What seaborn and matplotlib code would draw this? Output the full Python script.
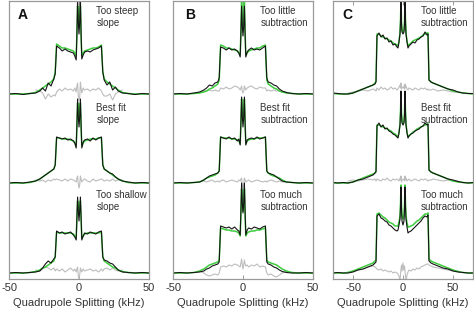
import numpy as np
import matplotlib
matplotlib.use("Agg")
import matplotlib.pyplot as plt
import seaborn as sns

nan = np.nan

# %%
# frequency axes (kHz)
x_ab = [-50, -45, -40, -35, -31, -28, -26, -24, -22, -20, -18, -17, -16, -14, -12, -10, -8, -6, -4, -3,
        -2, -1.5, -1, -0.5, 0, 0.5, 1, 1.5, 2, 3, 4, 6, 8, 10, 12, 14, 16, 17, 18, 20,
        22, 24, 26, 28, 31, 35, 40, 45, 50]
x_c = [-70, -65, -60, -55, -50, -45, -40, -35, -30, -28, -27, -26, -24, -22, -20, -18, -16, -14, -12, -10,
       -8, -6, -5, -4, -3, -2.5, -2, -1.5, -1, 0, 1, 1.5, 2, 2.5, 3, 4, 5, 6, 8, 10,
       12, 14, 16, 18, 20, 22, 24, 25, 26, 28, 30, 35, 40, 45, 50, 55, 60, 65, 70]

# panel A: slope of the background
a1_data = [0, 0.5, -0.5, 0.5, 1, 3, 6, 3, 11, 8, 15, 20, 48, 46, 43, 45, 43, 42, 41, 38,
           34, 60, 95, 72, 60, 72, 95, 60, 35, 39, 42, 43, 42, 44, 45, 46, 48, 22, 14, 9,
           12, 4, 7, 3, 1, 0.5, -0.5, 0.5, 0]
a1_fit = [0, 0, 0, 0.5, 1.5, 4, 6, 8, 10, 12, 15, 22, 50, 48, 46, 46, 45, 44, 43, 41,
          38, 58, 88, 74, 66, 74, 88, 58, 38, 41, 43, 44, 45, 46, 46, 47, 49, 22, 15, 12,
          10, 8, 6, 4, 1.5, 0.5, 0, 0, 0]
a1_res = [nan, nan, nan, nan, 4, 3, 1, -5, 0, -3, -1, -2, 2, 5, 3, 6, 4, 5, 3, 6,
          2, 8, 11, -2, -6, -3, 12, 6, 1, 6, 4, 5, 3, 5, 4, 6, 3, 0, -2, -2,
          0, -6, 0, 2, 4, nan, nan, nan, nan]
a2_data = [0, 0.5, 0, 1, 2, 4, 6, 8, 10, 12, 14, 18, 46, 45, 44, 45, 43, 44, 42, 40,
           35, 58, 84, 66, 56, 66, 84, 58, 35, 41, 43, 44, 42, 45, 43, 45, 46, 18, 14, 12,
           10, 9, 6, 4, 2, 1, 0, 0.5, 0]
a2_fit = [0, 0, 0, 0.5, 2, 4, 6, 8, 10, 12, 14, 18, 45, 45, 44, 44, 44, 43, 42, 40,
          37, 56, 80, 70, 64, 70, 80, 56, 37, 40, 42, 43, 44, 44, 44, 45, 45, 18, 14, 12,
          10, 8, 6, 4, 2, 0.5, 0, 0, 0]
a2_res = [nan, nan, nan, nan, 3, 2, 3, 1, 3, 2, 4, 3, 4, 3, 2, 4, 2, 4, 3, 2,
          1, 5, 7, -1, -5, -2, 7, 4, 1, 3, 4, 2, 1, 4, 2, 3, 4, 3, 2, 3,
          2, 4, 2, 3, 3, nan, nan, nan, nan]
a3_data = [0, 0.5, 0, 0.5, 1, 2, 5, 9, 12, 10, 14, 16, 42, 40, 41, 39, 40, 41, 38, 36,
           33, 56, 76, 62, 52, 62, 76, 56, 33, 37, 40, 39, 41, 40, 39, 41, 42, 16, 13, 12,
           10, 9, 6, 3, 1, 0.5, 0, 0.5, 0]
a3_fit = [0, 0, 0, 0.5, 1.5, 3, 5, 6, 8, 10, 12, 16, 41, 40, 40, 40, 40, 40, 39, 37,
          35, 54, 72, 64, 58, 64, 72, 54, 35, 37, 39, 40, 40, 40, 40, 40, 41, 16, 12, 10,
          8, 6, 5, 3, 1.5, 0.5, 0, 0, 0]
a3_res = [nan, nan, nan, nan, 3, 2, 4, 6, 5, 3, 5, 2, 4, 2, 4, 1, 3, 5, 2, 4,
          1, 4, 6, -3, -6, -2, 5, 3, 1, 4, 2, 3, 4, 2, 3, 1, 4, 2, 4, 5,
          3, 5, 3, 2, 3, nan, nan, nan, nan]

# panel B: amount of subtraction
b1_data = [0, 0.5, 0, 1, 2, 4, 6, 9, 8, 11, 12, 16, 47, 46, 44, 46, 44, 45, 43, 41,
           37, 60, 88, 68, 58, 68, 88, 60, 37, 42, 44, 46, 44, 45, 44, 46, 48, 16, 12, 11,
           9, 8, 5, 3, 1.5, 0.5, 0, 0.5, 0]
b1_fit = [0, 0, 0, 0.5, 1, 2, 3, 5, 6, 8, 10, 14, 49, 48, 46, 46, 45, 44, 43, 41,
          39, 62, 92, 74, 66, 74, 92, 62, 39, 41, 43, 44, 45, 46, 46, 48, 49, 14, 10, 8,
          6, 5, 3, 2, 1, 0.5, 0, 0, 0]
b1_res = [nan, nan, nan, nan, 2, 3, 3, 4, 3, 4, 3, 3, 6, 5, 7, 5, 6, 8, 7, 6,
          4, 6, 8, 3, 1, 3, 8, 6, 4, 6, 7, 8, 6, 5, 7, 6, 6, 3, 4, 3,
          4, 3, 3, 2, 2, nan, nan, nan, nan]
b2_data = [0, 0.5, 0, 0.5, 1, 3, 5, 7, 8, 9, 10, 12, 46, 45, 44, 46, 44, 45, 42, 44,
           38, 60, 86, 66, 56, 66, 86, 60, 38, 43, 44, 45, 44, 46, 44, 45, 46, 12, 10, 9,
           8, 6, 4, 2, 1, 0.5, 0, 0.5, 0]
b2_fit = [0, 0, 0, 0.5, 1, 3, 5, 6, 7, 8, 10, 12, 46, 45, 45, 45, 44, 44, 43, 42,
          39, 60, 84, 70, 64, 70, 84, 60, 39, 42, 43, 44, 44, 45, 45, 45, 46, 12, 10, 8,
          7, 6, 5, 3, 1, 0.5, 0, 0, 0]
b2_res = [nan, nan, nan, nan, 1, 2, 1, 2, 3, 1, 2, 1, 2, 3, 1, 2, 3, 2, 1, 3,
          2, 4, 5, -2, -6, -1, 5, 3, 1, 2, 3, 1, 2, 3, 2, 1, 2, 1, 2, 3,
          2, 1, 2, 1, 1, nan, nan, nan, nan]
b3_data = [0, 0.5, 0, 0.5, 1, 2, 4, 5, 7, 8, 9, 11, 47, 46, 45, 46, 44, 46, 43, 42,
           38, 62, 90, 70, 60, 70, 90, 62, 38, 43, 45, 44, 46, 45, 44, 46, 47, 11, 9, 8,
           6, 5, 3, 1.5, 0.5, 0, 0, 0.5, 0]
b3_fit = [0, 0, 0, 0.5, 2, 4, 6, 8, 9, 10, 11, 13, 45, 44, 43, 43, 42, 42, 41, 40,
          37, 58, 84, 68, 62, 68, 84, 58, 37, 40, 41, 42, 42, 43, 43, 44, 45, 13, 11, 10,
          9, 8, 6, 4, 2, 0.5, 0, 0, 0]
b3_res = [nan, nan, nan, nan, 2, 0, -2, -3, -2, -1, -2, 0, 6, 7, 6, 8, 7, 9, 8, 7,
          6, 10, 14, 8, 4, 8, 13, 9, 7, 8, 6, 8, 7, 9, 6, 7, 6, 0, -2, -1,
          -3, -4, -2, 0, 2, nan, nan, nan, nan]

# panel C: amount of subtraction, wider spectrum
c1_data = [1, 0.5, 0, 0, 1, 3, 5, 7, 9, 10, 12, 58, 61, 57, 59, 55, 56, 52, 53, 49,
           50, 47, 46, 52, 60, 72, 98, 70, 62, 60, 62, 70, 98, 72, 60, 52, 46, 48, 50, 52,
           51, 54, 55, 57, 58, 62, 59, 60, 14, 12, 11, 9, 7, 5, 4, 2, 1, 0.5, 0.5]
c1_fit = [0.5, 0, 0, 0, 1, 3, 5, 7, 9, 11, 13, 60, 60, 58, 57, 56, 55, 54, 53, 51,
          50, 49, 48, 53, 61, 74, 94, 72, 64, 62, 64, 72, 94, 74, 61, 53, 48, 49, 51, 53,
          54, 55, 56, 57, 59, 60, 61, 61, 14, 12, 11, 9, 7, 5, 3, 2, 1, 0.5, 0]
c1_res = [nan, nan, nan, 1, 2, 3, 4, 3, 5, 4, 3, 6, 4, 7, 5, 6, 4, 5, 7, 5,
          6, 4, 5, 7, 9, 6, 11, 5, 7, 6, 8, 5, 10, 6, 8, 5, 4, 6, 5, 4,
          6, 5, 4, 6, 5, 6, 4, 5, 4, 4, 5, 3, 4, 3, 2, 2, nan, nan, nan]
c2_data = [0.5, 0, 0.5, 0, 1, 3, 4, 6, 8, 10, 11, 57, 60, 56, 58, 54, 55, 52, 51, 49,
           48, 46, 45, 50, 58, 70, 92, 68, 60, 58, 60, 68, 92, 70, 58, 50, 45, 47, 49, 50,
           52, 53, 54, 56, 57, 60, 58, 59, 13, 11, 10, 8, 6, 4, 3, 1.5, 0.5, 0, 0.5]
c2_fit = [0, 0, 0, 0, 1, 3, 5, 7, 9, 10, 12, 58, 58, 57, 56, 55, 54, 53, 52, 50,
          49, 47, 46, 51, 59, 72, 90, 70, 62, 60, 62, 70, 90, 72, 59, 51, 46, 47, 49, 51,
          52, 54, 55, 56, 57, 58, 59, 59, 13, 11, 10, 8, 6, 4, 2, 1, 0.5, 0, 0]
c2_res = [nan, nan, nan, 2, 3, 2, 3, 4, 3, 4, 2, 4, 3, 2, 4, 3, 5, 3, 2, 4,
          3, 4, 3, 2, 5, 3, 7, 1, 3, 4, 3, 2, 7, 3, 5, 2, 3, 4, 2, 3,
          4, 3, 2, 4, 3, 4, 3, 2, 3, 3, 4, 3, 2, 3, 2, 2, nan, nan, nan]
c3_data = [0, 0.5, 0, 0, 1, 3, 4, 6, 8, 10, 11, 57, 59, 55, 54, 52, 51, 48, 47, 45,
           43, 42, 43, 48, 54, 66, 86, 64, 52, 48, 52, 64, 86, 66, 54, 46, 40, 41, 42, 44,
           46, 48, 50, 52, 55, 57, 56, 58, 12, 10, 9, 7, 5, 4, 2, 1, 0.5, 0, 0]
c3_fit = [0, 0, 0, 0.5, 2, 4, 6, 8, 10, 12, 13, 59, 60, 58, 56, 55, 53, 51, 50, 49,
          47, 47, 47, 51, 57, 70, 88, 68, 58, 54, 58, 68, 88, 70, 57, 50, 46, 46, 47, 48,
          50, 52, 53, 55, 57, 59, 59, 60, 14, 12, 11, 9, 7, 5, 3, 1.5, 0.5, 0, 0]
c3_res = [nan, nan, nan, 1, 2, 3, 4, 6, 7, 6, 5, 4, 3, 4, 2, 3, 2, 1, 2, 0,
          1, 0, -1, -3, -8, -2, 4, 8, 2, 10, 3, 7, 2, -3, -8, -2, 1, 3, 2, 4,
          3, 5, 4, 6, 7, 8, 9, 9, 8, 7, 6, 5, 4, 3, 2, 2, nan, nan, nan]

panel_letters = ["A", "B", "C"]
row_labels = [
    ["Too steep\nslope", "Best fit\nslope", "Too shallow\nslope"],
    ["Too little\nsubtraction", "Best fit\nsubtraction", "Too much\nsubtraction"],
    ["Too little\nsubtraction", "Best fit\nsubtraction", "Too much\nsubtraction"],
]
xlabel = "Quadrupole Splitting (kHz)"

panels = [
    (x_ab, [(a1_data, a1_fit, a1_res), (a2_data, a2_fit, a2_res), (a3_data, a3_fit, a3_res)]),
    (x_ab, [(b1_data, b1_fit, b1_res), (b2_data, b2_fit, b2_res), (b3_data, b3_fit, b3_res)]),
    (x_c, [(c1_data, c1_fit, c1_res), (c2_data, c2_fit, c2_res), (c3_data, c3_fit, c3_res)]),
]

# %%
sns.set_style("ticks")
plt.rcParams["font.family"] = ["Liberation Sans", "DejaVu Sans"]

W, H = 474, 312
fig = plt.figure(figsize=(W / 100, H / 100), dpi=100)

# axes boxes in pixels: left, right; shared top/bottom
boxes = [(9, 149), (173, 313), (333, 473)]
top_px, bot_px = 1, 279
xlims = [(-50, 50), (-50, 50), (-70, 70)]
offsets = [185, 96, 6]
# label positions (kHz, pixel height from axes bottom)
letter_x = [-43.5, -41.5, -61]
label_x = [12.5, 12.5, 18]
label_y = [273, 176, 89]

grey_txt = "#333333"
spine_col = "#9a9a9a"

for i, (x, rows) in enumerate(panels):
    l, r = boxes[i]
    ax = fig.add_axes([l / W, (H - bot_px) / H, (r - l) / W, (bot_px - top_px) / H])
    for j, (data, fit, res) in enumerate(rows):
        off = offsets[j]
        sns.lineplot(x=x, y=np.array(res, dtype=float) + off, ax=ax, color="#bdbdbd",
                     lw=0.8, estimator=None, sort=False)
        sns.lineplot(x=x, y=np.array(fit, dtype=float) + off, ax=ax, color="#3ccc3c",
                     lw=1.1, estimator=None, sort=False)
        sns.lineplot(x=x, y=np.array(data, dtype=float) + off, ax=ax, color="#151515",
                     lw=0.8, estimator=None, sort=False)
        ax.text(label_x[i], label_y[j], row_labels[i][j], fontsize=7, color=grey_txt,
                va="top", ha="left", linespacing=1.3)
    ax.text(letter_x[i], 264, panel_letters[i], fontsize=10, fontweight="bold",
            color="#111111", va="center", ha="left")

    ax.set_xlim(*xlims[i])
    ax.set_ylim(0, bot_px - top_px)
    ax.set_xticks([-50, 0, 50])
    ax.set_xticklabels(["-50", "0", "50"])
    ax.set_yticks([])
    ax.set_ylabel("")
    ax.set_xlabel(xlabel, fontsize=8, color=grey_txt, labelpad=3.5)
    ax.tick_params(axis="x", direction="in", top=True, length=3, width=0.7,
                   color=spine_col, labelsize=8, labelcolor=grey_txt, pad=3)
    for s in ax.spines.values():
        s.set_visible(True)
        s.set_color(spine_col)
        s.set_linewidth(0.9)

fig.savefig("out.png", dpi=100)
